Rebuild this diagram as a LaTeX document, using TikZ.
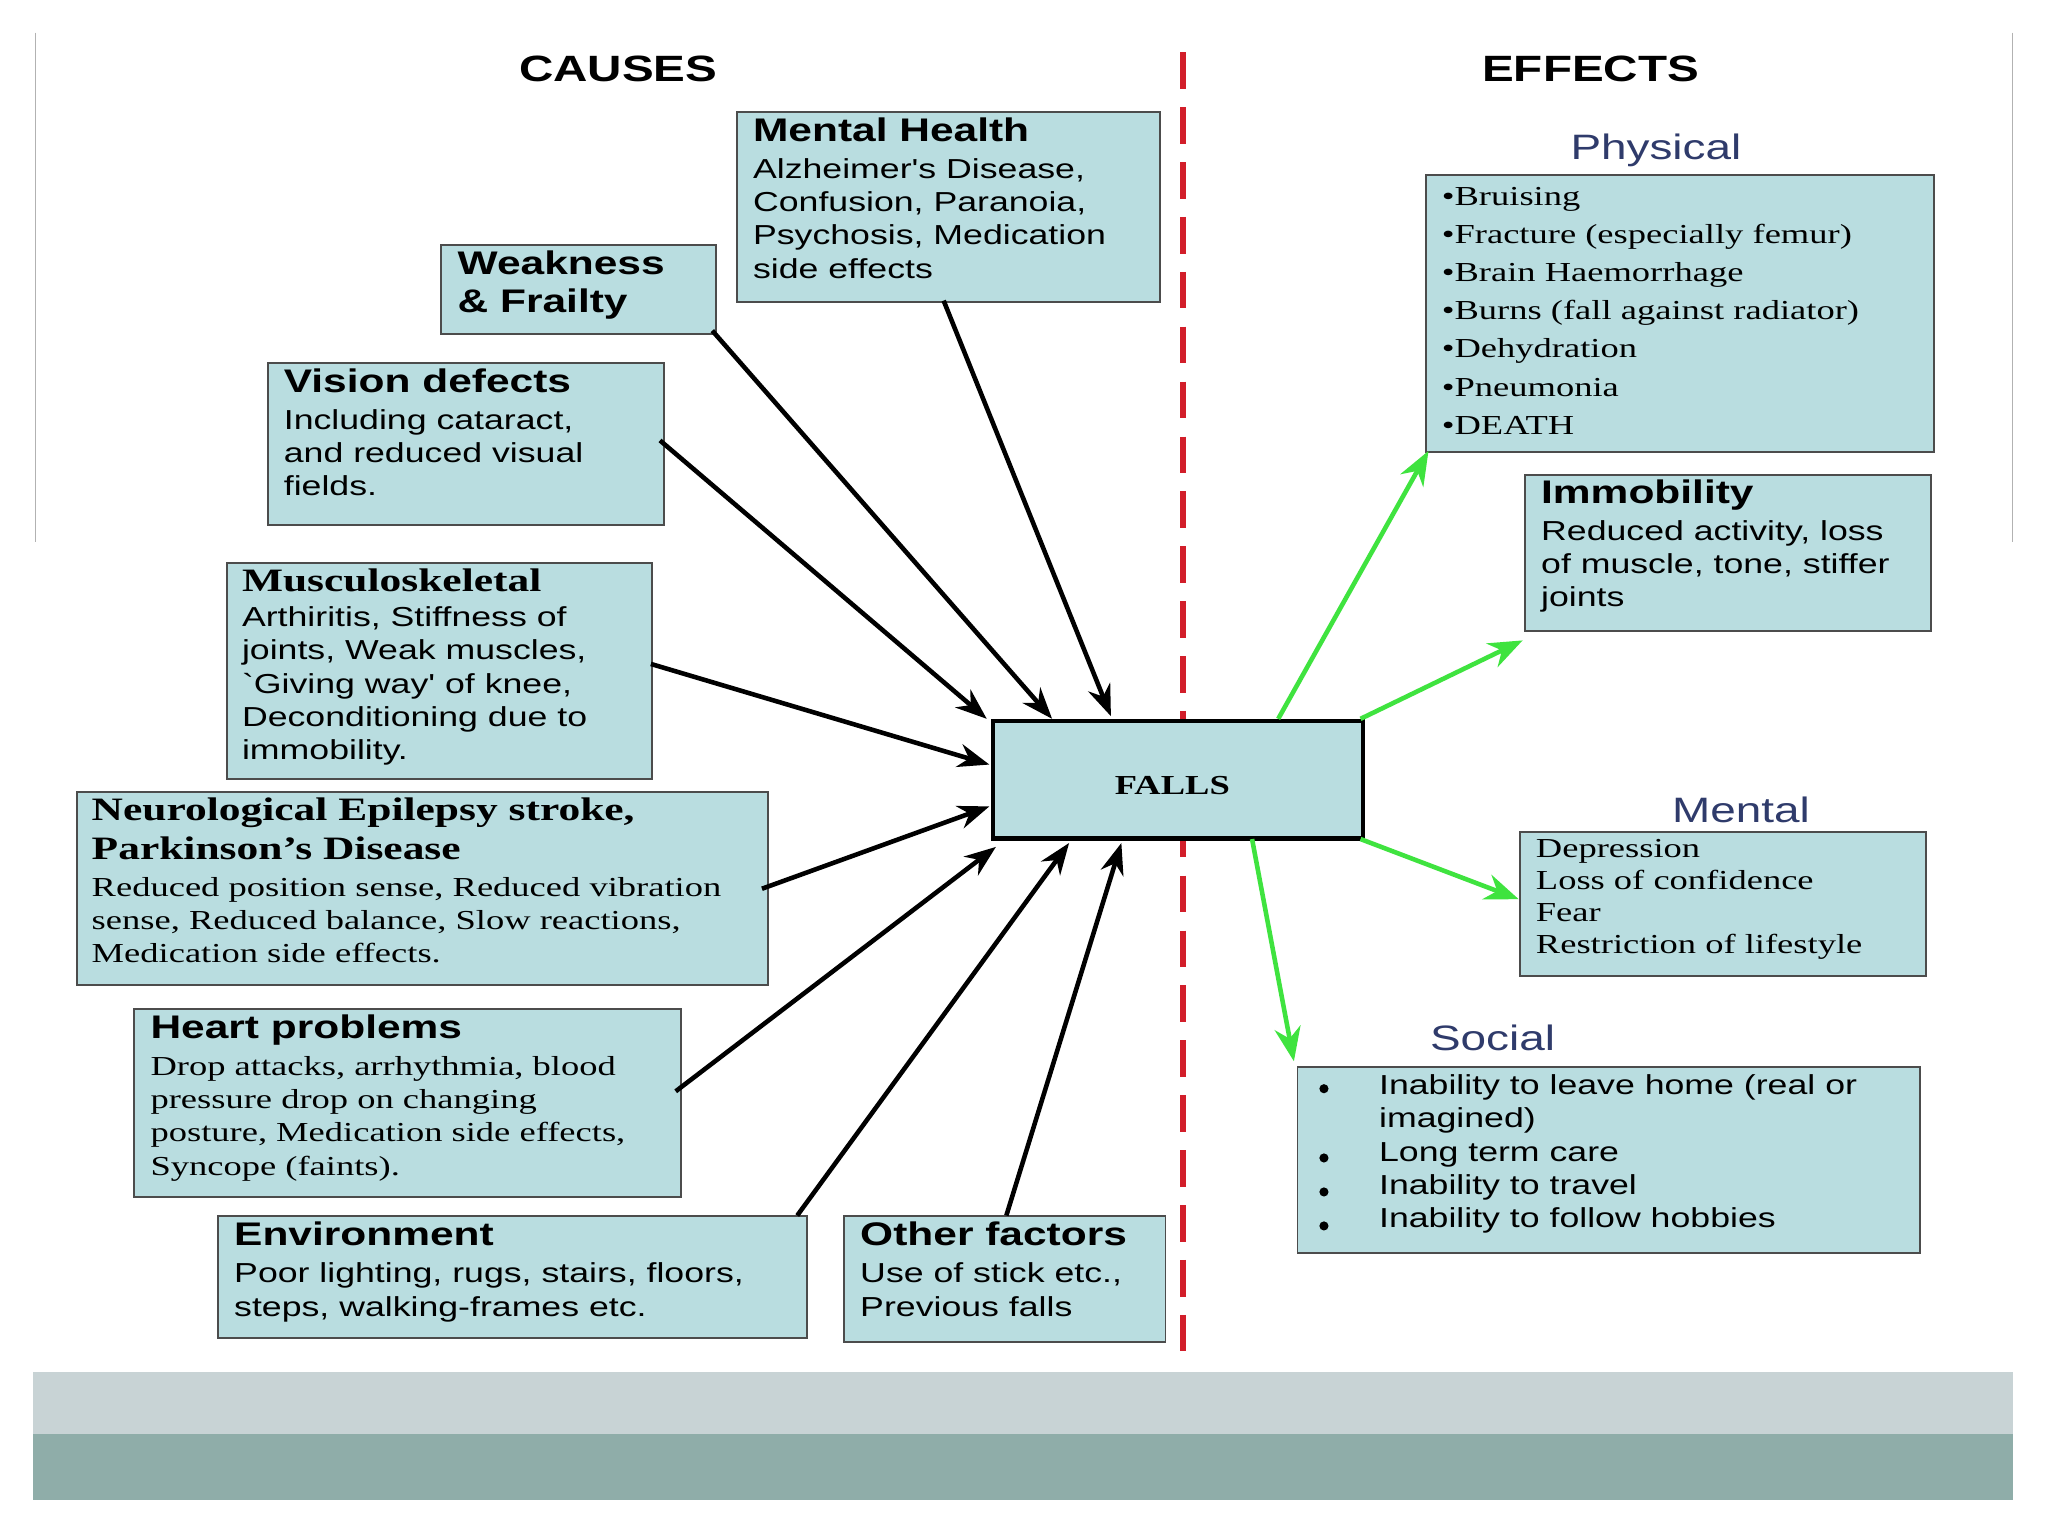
\documentclass[tikz,border=0pt]{standalone}
\usepackage{fontspec}
\setmainfont{Liberation Serif}[FakeStretch=1.33]
\newfontfamily\sfx{Liberation Sans}[FakeStretch=1.3]
\usetikzlibrary{arrows.meta}
\definecolor{boxc}{HTML}{B9DDE0}
\definecolor{band1}{HTML}{C8D3D5}
\definecolor{band2}{HTML}{8FADA9}
\definecolor{dred}{HTML}{D21E2A}
\definecolor{grn}{HTML}{3FE33F}
\definecolor{hblue}{HTML}{2F3B6B}
\begin{document}
\begin{tikzpicture}[x=1pt,y=-1pt,
 bx/.style={draw=black!70,line width=1.5pt,fill=boxc},
 hs/.style={anchor=north west,inner sep=0pt,align=left,font=\sfx\bfseries\fontsize{25}{29}\selectfont},
 hr/.style={anchor=north west,inner sep=0pt,align=left,font=\bfseries\fontsize{25}{30}\selectfont},
 ts/.style={anchor=north west,inner sep=0pt,align=left,font=\sfx\fontsize{21}{25.5}\selectfont},
 tr/.style={anchor=north west,inner sep=0pt,align=left,font=\fontsize{21}{25.5}\selectfont},
 sub/.style={font=\sfx\fontsize{27}{30}\selectfont,text=hblue},
 ar/.style={-{Stealth[length=24pt,width=18pt]},line width=3.5pt},
 ag/.style={-{Stealth[length=26pt,width=20pt]},line width=3.5pt,draw=grn}]
\useasboundingbox (0,0) rectangle (1567,1175);
\fill[white] (0,0) rectangle (1567,1175);
\fill[band1] (25,1050) rectangle (1540,1097);
\fill[band2] (25,1097) rectangle (1540,1148);
\draw[black!30] (27,25) -- (27,415); \draw[black!30] (1540,25) -- (1540,415);
\draw[dred,line width=5pt,dash pattern=on 28pt off 14pt] (905,40) -- (905,1045);
\node[font=\sfx\bfseries\fontsize{28}{30}\selectfont] (causes) at (473,53) {CAUSES};
\node[font=\sfx\bfseries\fontsize{28}{30}\selectfont] (effects) at (1217,53) {EFFECTS};
% causes boxes
\node[bx,anchor=north west,minimum width=324,minimum height=145] (mh) at (563,85) {};
\node[hs] at (576,90) {Mental Health};
\node[ts] at (576,121) {Alzheimer's Disease,\\Confusion, Paranoia,\\Psychosis, Medication\\side effects};
\node[bx,anchor=north west,minimum width=210,minimum height=68] (wk) at (337,187) {};
\node[hs] at (350,192) {Weakness\\\& Frailty};
\node[bx,anchor=north west,minimum width=303,minimum height=124] (vi) at (204,277) {};
\node[hs] at (217,282) {Vision defects};
\node[ts] at (217,313) {Including cataract,\\and reduced visual\\fields.};
\node[bx,anchor=north west,minimum width=325,minimum height=165] (ms) at (173,430) {};
\node[hr] at (185,435) {Musculoskeletal};
\node[ts] at (185,464) {Arthiritis, Stiffness of\\joints, Weak muscles,\\`Giving way' of knee,\\Deconditioning due to\\immobility.};
\node[bx,anchor=north west,minimum width=529,minimum height=148] (ne) at (58,605) {};
\node[hr] at (70,610) {Neurological Epilepsy stroke,\\Parkinson's Disease};
\node[tr] at (70,671) {Reduced position sense, Reduced vibration\\sense, Reduced balance, Slow reactions,\\Medication side effects.};
\node[bx,anchor=north west,minimum width=418,minimum height=144] (he) at (102,771) {};
\node[hs] at (115,776) {Heart problems};
\node[tr] at (115,808) {Drop attacks, arrhythmia, blood\\pressure drop on changing\\posture, Medication side effects,\\Syncope (faints).};
\node[bx,anchor=north west,minimum width=451,minimum height=93] (en) at (166,930) {};
\node[hs] at (179,935) {Environment};
\node[ts] at (179,966) {Poor lighting, rugs, stairs, floors,\\steps, walking-frames etc.};
\node[bx,anchor=north west,minimum width=246,minimum height=96] (ot) at (645,930) {};
\node[hs] at (658,935) {Other factors};
\node[ts] at (658,966) {Use of stick etc.,\\Previous falls};
% falls
\node[draw=black,line width=3.5pt,fill=boxc,anchor=north west,minimum width=283,minimum height=90] (falls) at (758,550) {};
\node[font=\bfseries\fontsize{21}{25}\selectfont] (fallst) at (897,601) {FALLS};
% effects
\node[sub] (phys) at (1267,115) {Physical};
\node[bx,anchor=north west,minimum width=389,minimum height=212] (ph) at (1090,133) {};
\node[tr,font=\fontsize{21}{29.2}\selectfont] at (1103,143) {\textbullet Bruising\\\textbullet Fracture (especially femur)\\\textbullet Brain Haemorrhage\\\textbullet Burns (fall against radiator)\\\textbullet Dehydration\\\textbullet Pneumonia\\\textbullet DEATH};
\node[bx,anchor=north west,minimum width=311,minimum height=119] (im) at (1166,363) {};
\node[hs] at (1179,367) {Immobility};
\node[ts] at (1179,398) {Reduced activity, loss\\of muscle, tone, stiffer\\joints};
\node[sub] (ment) at (1332,620) {Mental};
\node[bx,anchor=north west,minimum width=311,minimum height=110] (me) at (1162,636) {};
\node[tr,font=\fontsize{21}{24.5}\selectfont] at (1175,642) {Depression\\Loss of confidence\\Fear\\Restriction of lifestyle};
\node[sub] (soc) at (1142,794) {Social};
\node[bx,anchor=north west,minimum width=476,minimum height=142] (so) at (992,816) {};
\node[ts] at (1055,822) {Inability to leave home (real or\\imagined)\\Long term care\\Inability to travel\\Inability to follow hobbies};
\foreach \y in {833,886,912,938} \fill (1013,\y) circle (3.5pt);
% arrow coords
\coordinate (a1) at (722,230); \coordinate (b1) at (850,548);
\coordinate (a2) at (545,253); \coordinate (b2) at (805,550);
\coordinate (a3) at (505,337); \coordinate (b3) at (755,550);
\coordinate (a4) at (498,508); \coordinate (b4) at (757,585);
\coordinate (a5) at (583,680); \coordinate (b5) at (757,617);
\coordinate (a6) at (517,835); \coordinate (b6) at (762,648);
\coordinate (a7) at (610,930); \coordinate (b7) at (818,645);
\coordinate (a8) at (770,930); \coordinate (b8) at (858,645);
\foreach \i in {1,...,8} \draw[ar] (a\i) -- (b\i);
\coordinate (g1) at (978,550); \coordinate (h1) at (1093,345);
\coordinate (g2) at (1041,550); \coordinate (h2) at (1165,490);
\coordinate (g3) at (1041,642); \coordinate (h3) at (1162,688);
\coordinate (g4) at (958,642); \coordinate (h4) at (990,812);
\foreach \i in {1,...,4} \draw[ag] (g\i) -- (h\i);
\end{tikzpicture}
\end{document}
